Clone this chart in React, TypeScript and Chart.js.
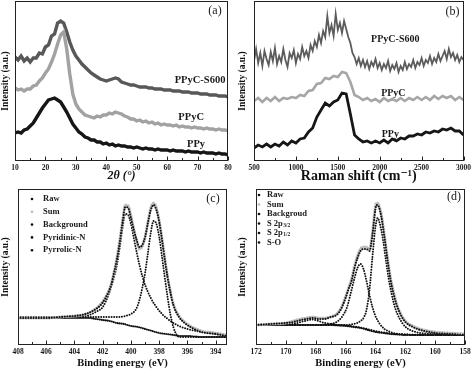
import React, { useEffect, useRef } from 'react';
import { Chart, registerables } from 'chart.js';

Chart.register(...registerables);

const SERIF = '"Liberation Serif", "Times New Roman", "DejaVu Serif", serif';
Chart.defaults.font.family = SERIF;

// ---------------- (a) XRD ----------------
const xrdAngle = [
  10, 11, 12, 13, 14, 15, 16, 17, 18, 19,
  20, 21, 22, 23, 24, 25, 26, 27, 28, 29,
  30, 31, 32, 33, 34, 35, 36, 37, 38, 39,
  40, 41, 42, 43, 44, 45, 46, 47, 48, 49,
  50, 51, 52, 53, 54, 55, 56, 57, 58, 59,
  60, 61, 62, 63, 64, 65, 66, 67, 68, 69,
  70, 71, 72, 73, 74, 75, 76, 77, 78, 79,
  80,
];
const xrdS600 = [
  104, 101, 105, 100, 103, 99, 103, 103, 108, 107,
  114, 116, 125, 127, 138, 140, 138, 129, 119, 111,
  105, 101, 97, 94, 91, 88, 86, 84, 82, 81,
  80, 81, 82, 83, 82, 79, 78, 77, 76, 76,
  75, 74, 74, 74, 73, 73, 72, 72, 72, 71,
  71, 71, 70, 70, 70, 69, 69, 69, 68, 68,
  68, 67, 67, 67, 66, 66, 66, 65, 65, 65,
  64,
];
const xrdPPyC = [
  73, 71, 72, 70, 72, 72, 75, 76, 80, 83,
  88, 92, 99, 107, 117, 126, 129, 112, 87, 67,
  57, 52, 49, 46, 45, 44, 43, 45, 44, 46,
  46, 48, 47, 49, 48, 47, 45, 44, 42, 42,
  40, 41, 39, 40, 38, 39, 37, 38, 36, 37,
  36, 36, 35, 36, 34, 35, 34, 34, 33, 34,
  33, 33, 32, 33, 32, 32, 31, 32, 31, 31,
  30,
];
const xrdPPy = [
  28, 29, 28, 31, 32, 35, 38, 43, 48, 53,
  57, 61, 62, 63, 61, 59, 54, 49, 43, 37,
  33, 29, 27, 24, 23, 21, 21, 19, 19, 17,
  18, 16, 17, 15, 16, 15, 15, 14, 14, 13,
  14, 13, 12, 13, 12, 12, 11, 12, 11, 11,
  11, 10, 11, 10, 10, 10, 9, 10, 9, 9,
  9, 8, 9, 8, 8, 8, 7, 8, 7, 7,
  6,
];

// ---------------- (b) Raman ----------------
const ramanShiftCoarse = [
  500, 550, 600, 650, 700, 750, 800, 850, 900, 950,
  1000, 1050, 1100, 1150, 1200, 1250, 1300, 1350, 1400, 1450,
  1500, 1550, 1600, 1650, 1700, 1750, 1800, 1850, 1900, 1950,
  2000, 2050, 2100, 2150, 2200, 2250, 2300, 2350, 2400, 2450,
  2500, 2550, 2600, 2650, 2700, 2750, 2800, 2850, 2900, 2950,
  3000,
];
const ramanPPy = [
  13, 16, 14, 17, 14, 17, 15, 19, 16, 20,
  18, 22, 23, 29, 33, 44, 51, 58, 55, 59,
  61, 68, 67, 47, 26, 22, 19, 20, 18, 20,
  18, 21, 18, 22, 20, 23, 22, 25, 25, 27,
  26, 29, 28, 30, 29, 32, 31, 33, 30, 30,
  26,
];
const ramanPPyC = [
  60, 63, 59, 63, 60, 64, 60, 63, 62, 64,
  63, 66, 65, 70, 71, 77, 78, 83, 82, 85,
  84, 89, 88, 79, 66, 64, 61, 63, 60, 62,
  59, 63, 60, 62, 60, 63, 60, 63, 61, 64,
  61, 64, 61, 65, 62, 65, 63, 65, 61, 64,
  61,
];
const ramanShiftFine = [
  500, 525, 550, 575, 600, 625, 650, 675, 700, 725,
  750, 775, 800, 825, 850, 875, 900, 925, 950, 975,
  1000, 1025, 1050, 1075, 1100, 1125, 1150, 1175, 1200, 1225,
  1250, 1275, 1300, 1325, 1350, 1375, 1400, 1425, 1450, 1475,
  1500, 1525, 1550, 1575, 1600, 1625, 1650, 1675, 1700, 1725,
  1750, 1775, 1800, 1825, 1850, 1875, 1900, 1925, 1950, 1975,
  2000, 2025, 2050, 2075, 2100, 2125, 2150, 2175, 2200, 2225,
  2250, 2275, 2300, 2325, 2350, 2375, 2400, 2425, 2450, 2475,
  2500, 2525, 2550, 2575, 2600, 2625, 2650, 2675, 2700, 2725,
  2750, 2775, 2800, 2825, 2850, 2875, 2900, 2925, 2950, 2975,
  3000,
];
const ramanS600 = [
  100, 112, 98, 108, 95, 110, 102, 96, 109, 100,
  113, 97, 105, 99, 112, 101, 94, 108, 103, 111,
  98, 107, 102, 114, 105, 110, 103, 116, 110, 120,
  114, 126, 118, 130, 124, 145, 128, 136, 125, 147,
  131, 138, 128, 140, 132, 124, 118, 108, 104, 97,
  103, 95, 101, 94, 100, 92, 99, 95, 102, 93,
  98, 91, 97, 93, 100, 90, 96, 92, 98, 89,
  95, 91, 99, 92, 97, 94, 101, 93, 99, 96,
  103, 95, 101, 98, 105, 97, 103, 99, 107, 100,
  105, 110, 102, 112, 104, 108, 101, 106, 99, 104,
  101,
];

// ---------------- (c) N 1s ----------------
const n1sRawE = [408, 407, 406, 405, 404, 403.5, 403, 402.6, 402.2, 401.8, 401.4, 401.2, 401.0, 400.8, 400.6, 400.4, 400.2, 400.0, 399.8, 399.6, 399.4, 399.2, 399.0, 398.8, 398.6, 398.4, 398.2, 398.0, 397.8, 397.6, 397.4, 397.2, 397.0, 396.6, 396.2, 395.8, 395.0, 394.0, 393.2];
const n1sRaw = [27, 27, 27, 28, 29, 30, 32, 35, 39, 47, 60, 72, 85, 102, 122, 138, 137, 127, 115, 105, 98, 100, 108, 122, 135, 140, 135, 123, 105, 85, 67, 52, 40, 28, 22, 18, 13, 11, 9];
const n1sSum = [27, 27, 27, 28, 29, 30, 32, 35, 40, 48, 61, 73, 87, 104, 124, 140, 139, 129, 116, 104, 96, 99, 108, 123, 137, 142, 137, 124, 106, 86, 68, 53, 41, 29, 23, 19, 14, 12, 10];
const n1sBgE = [408, 406, 404, 403, 402.5, 402, 401.5, 401, 400.5, 400, 399.5, 399, 398.5, 398, 397.5, 397, 396.5, 396, 395, 394, 393.2];
const n1sBg = [27, 27, 27, 27, 26, 25, 24, 22, 21, 19, 18, 16, 14, 12, 11, 10, 9, 9, 8, 8, 8];
const n1sPyridinicE = [408, 406, 404, 402, 401, 400.4, 400.0, 399.8, 399.6, 399.4, 399.2, 399.0, 398.8, 398.6, 398.4, 398.2, 398.0, 397.8, 397.6, 397.4, 397.2, 397.0, 396.8, 396.6, 396, 395, 394, 393.2];
const n1sPyridinic = [28, 28, 28, 28, 28, 29, 31, 33, 37, 45, 57, 72, 92, 112, 124, 121, 108, 88, 67, 47, 30, 18, 11, 8, 8, 8, 8, 8];
const n1sPyrrolicE = [408, 406, 404, 403, 402.5, 402, 401.6, 401.2, 401.0, 400.8, 400.6, 400.4, 400.2, 400.0, 399.8, 399.6, 399.4, 399.2, 399.0, 398.6, 398.2, 397.8, 397.2, 396.6, 396, 395, 394, 393.2];
const n1sPyrrolic = [27, 27, 28, 30, 33, 38, 50, 68, 80, 97, 117, 131, 130, 121, 107, 93, 80, 69, 60, 47, 38, 31, 24, 19, 16, 13, 11, 9];

// ---------------- (d) S 2p ----------------
const s2pRawE = [172, 171, 170, 169.5, 169, 168.6, 168.2, 167.8, 167.4, 167, 166.6, 166.3, 166, 165.8, 165.6, 165.4, 165.2, 165.0, 164.8, 164.6, 164.4, 164.2, 164.0, 163.9, 163.8, 163.6, 163.4, 163.2, 163.0, 162.8, 162.6, 162.3, 162.0, 161.5, 161, 160, 159, 158];
const s2pRaw = [20, 21, 22, 23, 25, 26, 27, 26, 26, 28, 30, 36, 47, 56, 64, 77, 87, 94, 96, 96, 94, 110, 136, 140, 139, 128, 108, 86, 66, 52, 41, 30, 23, 18, 15, 12, 11, 10];
const s2pSum = [20, 21, 22, 24, 26, 27, 28, 27, 27, 28, 31, 37, 48, 57, 66, 79, 89, 96, 98, 98, 96, 112, 139, 142, 141, 130, 110, 88, 68, 54, 42, 31, 24, 19, 16, 13, 12, 11];
const s2pBgE = [172, 170, 168, 167, 166.5, 166, 165.5, 165, 164.5, 164, 163.5, 163, 162.5, 162, 161, 160, 158];
const s2pBg = [20, 20, 20, 20, 19.5, 19, 18, 17, 15, 13, 12, 11, 10.5, 10, 10, 10, 10];
const s2p32E = [172, 167, 166, 165.5, 165.2, 165.0, 164.8, 164.6, 164.4, 164.2, 164.0, 163.85, 163.7, 163.5, 163.3, 163.1, 162.9, 162.7, 162.5, 162.2, 161.9, 161.5, 161, 160, 158];
const s2p32 = [20, 20, 20, 21, 22, 24, 27, 35, 55, 88, 118, 127, 121, 106, 85, 65, 50, 38, 30, 22, 17, 14, 12, 11, 10];
const s2p12E = [172, 168, 167, 166.6, 166.2, 165.9, 165.6, 165.4, 165.2, 165.0, 164.8, 164.6, 164.4, 164.2, 164.0, 163.7, 163.4, 163.0, 162.5, 162, 161, 160, 158];
const s2p12 = [20, 20, 21, 23, 29, 38, 55, 67, 77, 81, 76, 64, 50, 38, 29, 21, 16, 13, 11, 10.5, 10, 10, 10];
const s2pSOE = [172, 170, 169.4, 169, 168.6, 168.2, 167.8, 167.4, 167, 166.5, 166, 165, 164, 163, 162, 160, 158];
const s2pSO = [20, 20.5, 21.5, 23, 24.5, 25.5, 24, 22, 21, 20, 19.5, 17.5, 14, 11.5, 10.5, 10, 10];

// ---------------- helpers ----------------
const pts = (xs: number[], ys: number[]) => xs.map((x, i) => ({ x, y: ys[i] }));

const solid = (label: string, xs: number[], ys: number[], color: string, width: number) => ({
  label, data: pts(xs, ys), borderColor: color, backgroundColor: color, borderWidth: width,
  pointRadius: 0, fill: false, tension: 0,
});

const dotted = (label: string, xs: number[], ys: number[], color: string, width: number, gap: number) => ({
  label, data: pts(xs, ys), borderColor: color, backgroundColor: color, borderWidth: width,
  borderDash: [0, gap], borderCapStyle: 'round', pointRadius: 0, fill: false,
  cubicInterpolationMode: 'monotone',
});

interface TextDef { text: string; font: string; color?: string; data?: boolean; x: number; y: number; }
interface LegendDef { mx: number; tx: number; y0: number; dy: number; font: string; subFont: string; r: number; }
interface PanelDef {
  key: string; left: number; top: number; w: number; h: number;
  datasets: any[];
  xMin: number; xMax: number; reverse: boolean; step: number; major: number; yMax: number;
  yAxisW: number; xAxisH: number; padTop: number; padRight: number;
  xTitle: string; xTitleFont: any; xTitlePadBottom: number;
  texts: TextDef[]; legend?: LegendDef;
}

function framePlugin(p: PanelDef) {
  return {
    id: 'frame_' + p.key,
    afterDraw(chart: any) {
      const { ctx, chartArea: a } = chart;
      const xs = chart.scales.x;
      const ys = chart.scales.y;
      ctx.save();
      ctx.strokeStyle = '#222';
      ctx.lineWidth = 1;
      const L = Math.round(a.left) + 0.5, T = Math.round(a.top) + 0.5;
      const R = Math.round(a.right) - 0.5, B = Math.round(a.bottom) - 0.5;
      ctx.strokeRect(L, T, R - L, B - T);
      ctx.beginPath();
      for (const t of xs.ticks) {
        const px = Math.round(xs.getPixelForValue(t.value)) + 0.5;
        const q = t.value / p.major;
        const major = Math.abs(q - Math.round(q)) < 1e-6;
        ctx.moveTo(px, B);
        ctx.lineTo(px, B - (major ? 4 : 2.5));
      }
      ctx.stroke();
      ctx.textAlign = 'center';
      ctx.textBaseline = 'middle';
      for (const t of p.texts) {
        ctx.font = t.font;
        ctx.fillStyle = t.color || '#1a1a1a';
        const x = t.data ? xs.getPixelForValue(t.x) : a.right - t.x;
        const y = t.data ? ys.getPixelForValue(t.y) : a.top + t.y;
        ctx.fillText(t.text, x, y);
      }
      const lg = p.legend;
      if (lg) {
        chart.data.datasets.forEach((ds: any, i: number) => {
          const y = a.top + lg.y0 + i * lg.dy;
          ctx.fillStyle = ds.borderColor;
          ctx.beginPath();
          ctx.arc(a.left + lg.mx, y, lg.r, 0, Math.PI * 2);
          ctx.fill();
          ctx.fillStyle = '#1a1a1a';
          ctx.textAlign = 'left';
          ctx.font = lg.font;
          const m = /^(.*p)(\d\/\d)$/.exec(ds.label);
          const tx = a.left + lg.tx;
          if (m) {
            ctx.fillText(m[1], tx, y);
            const w = ctx.measureText(m[1]).width;
            ctx.font = lg.subFont;
            ctx.fillText(m[2], tx + w + 0.5, y + 2);
          } else {
            ctx.fillText(ds.label, tx, y);
          }
        });
      }
      ctx.restore();
    },
  };
}

function makeConfig(p: PanelDef): any {
  const tickFont = { family: SERIF, size: 7.5, weight: 'bold' };
  return {
    type: 'line',
    data: { datasets: p.datasets },
    options: {
      animation: false,
      responsive: false,
      maintainAspectRatio: false,
      devicePixelRatio: 1,
      events: [],
      layout: { padding: { left: 0, top: p.padTop, right: p.padRight, bottom: 0 } },
      plugins: { legend: { display: false }, tooltip: { enabled: false } },
      scales: {
        x: {
          type: 'linear',
          min: p.xMin,
          max: p.xMax,
          reverse: p.reverse,
          grid: { display: false, drawTicks: false },
          border: { display: false },
          ticks: {
            stepSize: p.step,
            autoSkip: false,
            maxRotation: 0,
            minRotation: 0,
            includeBounds: false,
            maxTicksLimit: 200,
            padding: 3,
            color: '#1a1a1a',
            font: tickFont,
            callback: (v: number) => {
              const q = v / p.major;
              return Math.abs(q - Math.round(q)) < 1e-6 ? String(Math.round(v)) : '';
            },
          },
          title: {
            display: true,
            text: p.xTitle,
            color: '#111',
            font: p.xTitleFont,
            padding: { top: 0, bottom: p.xTitlePadBottom },
          },
          afterFit: (s: any) => { s.height = p.xAxisH; },
        },
        y: {
          min: 0,
          max: p.yMax,
          grid: { display: false, drawTicks: false },
          border: { display: false },
          ticks: { display: false },
          title: {
            display: true,
            text: 'Intensity (a.u.)',
            color: '#111',
            font: { family: SERIF, size: 9.5, weight: 'bold' },
            padding: 0,
          },
          afterFit: (s: any) => { s.width = p.yAxisW; },
        },
      },
    },
    plugins: [framePlugin(p)],
  };
}

const curveFontA = `bold 10.5px ${SERIF}`;
const curveFontB = `bold 10px ${SERIF}`;
const letterFont = `12px ${SERIF}`;
const bindingFont = { family: SERIF, size: 10.5, weight: 'bold' };

const PANELS: PanelDef[] = [
  {
    key: 'a', left: 0, top: 0, w: 237, h: 190,
    datasets: [
      solid('PPy', xrdAngle, xrdPPy, '#161616', 3.4),
      solid('PPyC', xrdAngle, xrdPPyC, '#a2a2a2', 3.4),
      solid('PPyC-S600', xrdAngle, xrdS600, '#585858', 3.4),
    ],
    xMin: 10, xMax: 80, reverse: false, step: 5, major: 10, yMax: 160,
    yAxisW: 15, xAxisH: 29, padTop: 1, padRight: 9,
    xTitle: '2θ (°)', xTitleFont: { family: SERIF, size: 12, weight: 'bold', style: 'italic' }, xTitlePadBottom: 6.8,
    texts: [
      { text: '(a)', font: letterFont, x: 13, y: 10 },
      { text: 'PPyC-S600', font: curveFontA, data: true, x: 70.8, y: 81 },
      { text: 'PPyC', font: curveFontA, data: true, x: 67.9, y: 44 },
      { text: 'PPy', font: curveFontA, data: true, x: 69.5, y: 17 },
    ],
  },
  {
    key: 'b', left: 237, top: 0, w: 237, h: 190,
    datasets: [
      solid('PPy', ramanShiftCoarse, ramanPPy, '#161616', 2.8),
      solid('PPyC', ramanShiftCoarse, ramanPPyC, '#a6a6a6', 2.6),
      solid('PPyC-S600', ramanShiftFine, ramanS600, '#5c5c5c', 1.8),
    ],
    xMin: 500, xMax: 3000, reverse: false, step: 250, major: 500, yMax: 160,
    yAxisW: 17, xAxisH: 29, padTop: 1, padRight: 8,
    xTitle: 'Raman shift (cm⁻¹)', xTitleFont: { family: SERIF, size: 14, weight: 'bold' }, xTitlePadBottom: 5.6,
    texts: [
      { text: '(b)', font: letterFont, x: 11, y: 11 },
      { text: 'PPyC-S600', font: curveFontB, data: true, x: 2186, y: 122 },
      { text: 'PPyC', font: curveFontB, data: true, x: 2163, y: 68 },
      { text: 'PPy', font: curveFontB, data: true, x: 2127, y: 27 },
    ],
  },
  {
    key: 'c', left: 0, top: 186, w: 237, h: 195,
    datasets: [
      dotted('Raw', n1sRawE, n1sRaw, '#111111', 2.1, 2.6),
      dotted('Sum', n1sRawE, n1sSum, '#bdbdbd', 3.2, 2.6),
      dotted('Background', n1sBgE, n1sBg, '#111111', 2.1, 2.0),
      dotted('Pyridinic-N', n1sPyridinicE, n1sPyridinic, '#111111', 2.0, 2.6),
      dotted('Pyrrolic-N', n1sPyrrolicE, n1sPyrrolic, '#111111', 2.0, 2.6),
    ],
    xMin: 393.2, xMax: 408, reverse: true, step: 1, major: 2, yMax: 156,
    yAxisW: 18, xAxisH: 36, padTop: 3, padRight: 10,
    xTitle: 'Binding energy (eV)', xTitleFont: bindingFont, xTitlePadBottom: 11.7,
    texts: [{ text: '(c)', font: letterFont, x: 14, y: 10 }],
    legend: { mx: 14, tx: 25, y0: 10, dy: 12.8, font: `bold 8.5px ${SERIF}`, subFont: `bold 6px ${SERIF}`, r: 1.3 },
  },
  {
    key: 'd', left: 237, top: 186, w: 237, h: 195,
    datasets: [
      dotted('Raw', s2pRawE, s2pRaw, '#111111', 2.1, 2.6),
      dotted('Sum', s2pRawE, s2pSum, '#bdbdbd', 3.2, 2.6),
      dotted('Backgroud', s2pBgE, s2pBg, '#111111', 2.1, 2.0),
      dotted('S 2p3/2', s2p32E, s2p32, '#111111', 2.0, 2.6),
      dotted('S 2p1/2', s2p12E, s2p12, '#111111', 2.0, 2.6),
      dotted('S-O', s2pSOE, s2pSO, '#111111', 2.0, 2.6),
    ],
    xMin: 158, xMax: 172, reverse: true, step: 1, major: 2, yMax: 156,
    yAxisW: 19, xAxisH: 36, padTop: 3, padRight: 9,
    xTitle: 'Binding energy (eV)', xTitleFont: bindingFont, xTitlePadBottom: 11.7,
    texts: [{ text: '(d)', font: letterFont, x: 11, y: 8 }],
    legend: { mx: 3, tx: 11, y0: 6, dy: 9.5, font: `bold 8.5px ${SERIF}`, subFont: `bold 5.5px ${SERIF}`, r: 1.3 },
  },
];

function Panel({ def }: { def: PanelDef }) {
  const ref = useRef<HTMLCanvasElement | null>(null);
  useEffect(() => {
    if (!ref.current) return;
    const chart = new Chart(ref.current, makeConfig(def));
    return () => chart.destroy();
  }, [def]);
  return (
    <canvas
      ref={ref}
      width={def.w}
      height={def.h}
      style={{ position: 'absolute', left: def.left, top: def.top, width: def.w, height: def.h }}
    />
  );
}

export default function App() {
  return (
    <div style={{ position: 'fixed', left: 0, top: 0, width: 474, height: 381, background: '#ffffff', overflow: 'hidden' }}>
      {PANELS.map((p) => (
        <Panel key={p.key} def={p} />
      ))}
    </div>
  );
}
